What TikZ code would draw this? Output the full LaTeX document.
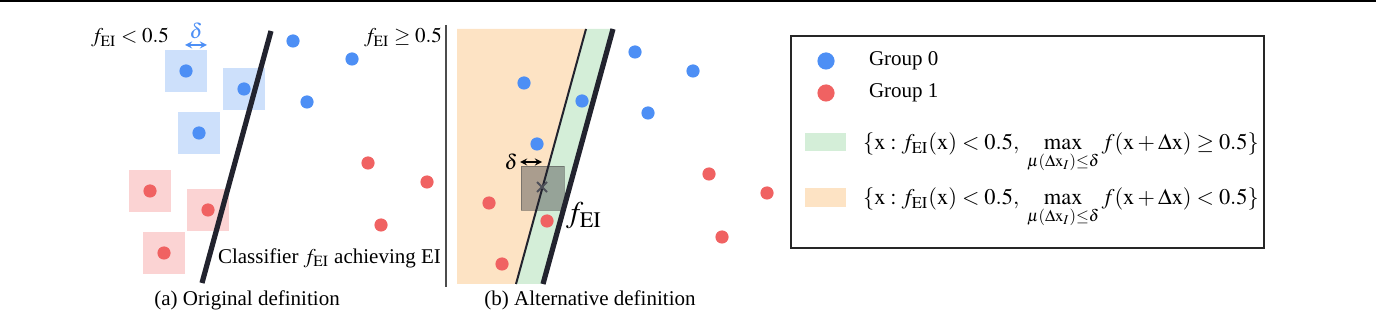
\documentclass[tikz,border=0pt]{standalone}
\usepackage{mathptmx}
\usepackage{fontspec}
\setmainfont{Liberation Serif}
\usetikzlibrary{positioning}

\definecolor{grpblue}{HTML}{4D8FF5}
\definecolor{grpred}{HTML}{F06262}
\definecolor{boxblue}{HTML}{CDE0FB}
\definecolor{boxred}{HTML}{FBD3D3}
\definecolor{regorange}{HTML}{FDE3C4}
\definecolor{reggreen}{HTML}{D4EED8}
\definecolor{clfline}{HTML}{22232E}

\tikzset{
  bluedot/.style={circle, fill=grpblue, inner sep=0pt, minimum size=6.6pt},
  reddot/.style={circle, fill=grpred, inner sep=0pt, minimum size=6.6pt},
  keydot/.style={circle, inner sep=0pt, minimum size=8.6pt},
  boundary/.style={clfline, line width=2.6pt},
  divider/.style={gray!60!black, line width=0.6pt},
  setlabel/.style={anchor=base west, font=\fontsize{11.2}{13}\selectfont},
}

\begin{document}
\begin{tikzpicture}[x=0.5pt, y=-0.5pt, >=stealth, font=\fontsize{10.5}{12.6}\selectfont]
  \useasboundingbox (0,0) rectangle (1376,315);
  % Page rule
  \draw[line width=1.2pt] (0,1.2) -- (1376,1.2);

  % ---------- (a) Original definition ----------
  % delta-boxes around the points left of the boundary
  \foreach \x/\y in {186/71, 244/89, 199/133}
    \fill[boxblue] (\x-21,\y-21) rectangle (\x+21,\y+21);
  \foreach \x/\y in {150/191, 208/210, 164/253}
    \fill[boxred] (\x-21,\y-21) rectangle (\x+21,\y+21);

  % Points
  \foreach \x/\y [count=\i] in {186/71, 244/89, 199/133, 293/41, 352/59, 307/102}
    \node[bluedot] (ablue\i) at (\x,\y) {};
  \foreach \x/\y [count=\i] in {150/191, 208/210, 164/253, 368/163, 427/182, 381/225}
    \node[reddot] (ared\i) at (\x,\y) {};

  % Classifier
  \draw[boundary] (271,31) -- (202,283);

  % delta width
  \coordinate (adl) at (185,45);
  \coordinate (adr) at (207,45);
  \draw[<->, grpblue, line width=0.6pt] (adl) -- (adr) node[midway, above=-0.5pt, text=grpblue] {$\delta$};

  \node (alow) at (130,38) {$f_{\mathrm{EI}} < 0.5$};
  \node (ahigh) at (403,38) {$f_{\mathrm{EI}} \ge 0.5$};
  \node[anchor=west] (aclf) at (211,258) {Classifier $f_{\mathrm{EI}}$ achieving EI};
  \node (acap) at (247,300) {(a) Original definition};

  \draw[divider] (446,25) -- (446,287);

  % ---------- (b) Alternative definition ----------
  % Regions
  \fill[regorange] (457,29) -- (586,29) -- (516,284) -- (457,284) -- cycle;
  \fill[reggreen] (586,29) -- (613,29) -- (543,284) -- (516,284) -- cycle;

  % delta-box around x
  \draw[gray!60!black, fill=gray!70!black, fill opacity=0.5, draw opacity=0.5]
    (521,166) rectangle (564,210);
  \draw[clfline, line width=1pt] (586,29) -- (516,284);
  \draw[boundary] (613,29) -- (543,284);
  \draw[clfline!80, line width=1pt] (537,182) -- (547,192) (537,192) -- (547,182);

  % Points
  \foreach \x/\y [count=\i] in {524/83, 582/101, 537/144, 635/52, 693/71, 648/113}
    \node[bluedot] (bblue\i) at (\x,\y) {};
  \foreach \x/\y [count=\i] in {489/203, 547/221, 502/264, 709/174, 767/193, 722/237}
    \node[reddot] (bred\i) at (\x,\y) {};

  \coordinate (bdl) at (520,162);
  \coordinate (bdr) at (542,162);
  \draw[<->, line width=0.6pt] (bdl) -- (bdr);
  \node[left=0pt of bdl, inner sep=1pt] (bdelta) {$\delta$};

  \node (bclf) at (584,216) {\fontsize{15}{17}\selectfont$f_{\mathrm{EI}}$};
  \node (bcap) at (590,300) {(b) Alternative definition};

  % ---------- Legend ----------
  \draw[gray!30!black, line width=0.6pt] (791,36) rectangle (1264,248);
  \node[keydot, fill=grpblue] (kblue) at (826,61) {};
  \node[keydot, fill=grpred] (kred) at (826,93) {};
  \node[anchor=west] (tblue) at (862,61) {Group 0};
  \node[anchor=west] (tred) at (862,93) {Group 1};
  \fill[reggreen] (805,133) rectangle (846,151);
  \fill[regorange] (805,188) rectangle (846,207);
  \node[setlabel] (tgreen) at (856,150)
    {$\displaystyle\{\mathrm{x} : f_{\mathrm{EI}}(\mathrm{x}) < 0.5,\ \max_{\mu(\Delta \mathrm{x}_I)\le\delta} f(\mathrm{x}+\Delta\mathrm{x}) \ge 0.5\}$};
  \node[setlabel] (torange) at (856,205)
    {$\displaystyle\{\mathrm{x} : f_{\mathrm{EI}}(\mathrm{x}) < 0.5,\ \max_{\mu(\Delta \mathrm{x}_I)\le\delta} f(\mathrm{x}+\Delta\mathrm{x}) < 0.5\}$};
\end{tikzpicture}
\end{document}
